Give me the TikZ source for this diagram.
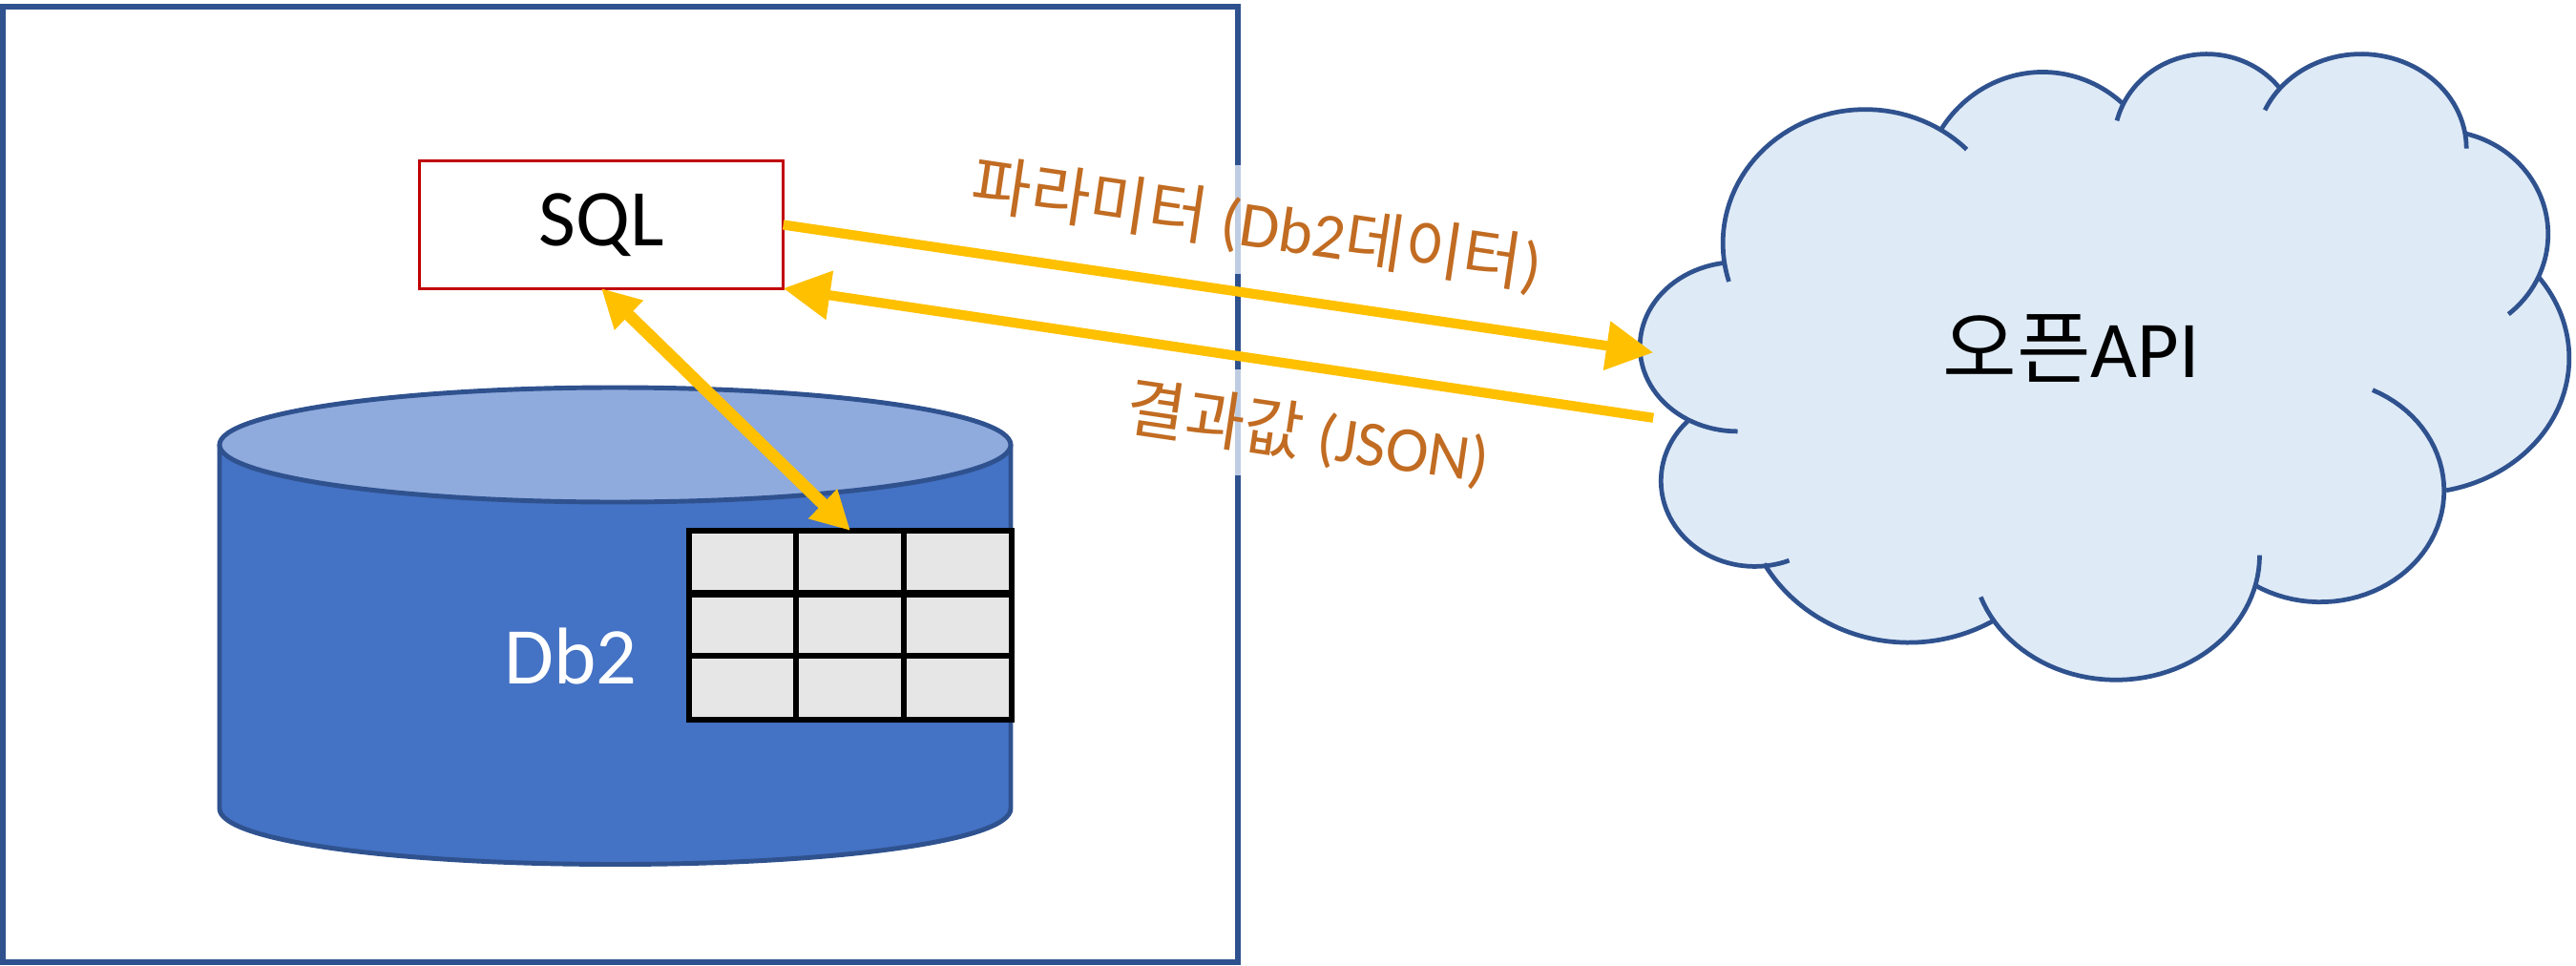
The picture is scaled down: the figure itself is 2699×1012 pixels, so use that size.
\documentclass[tikz,border=0pt]{standalone}
\usepackage{fontspec}
\setmainfont{Carlito}
\newfontfamily\cjk{Noto Sans CJK KR}
\usetikzlibrary{arrows.meta}
\definecolor{framec}{HTML}{2F528F}
\definecolor{framelight}{HTML}{BFCDE3}
\definecolor{bodyc}{HTML}{4472C4}
\definecolor{topc}{HTML}{8FAADC}
\definecolor{cellc}{HTML}{E6E6E6}
\definecolor{cloudc}{HTML}{DEEAF6}
\definecolor{gold}{HTML}{FFC000}
\definecolor{labelc}{HTML}{C16C22}
\definecolor{boxred}{HTML}{C00000}
\newcommand{\cloudlobes}{%
\lobeop{455}{540}{223}{297}{163.3}{315.5}%
\lobeop{733}{441}{190}{281}{213.7}{311.1}%
\lobeop{990}{316}{145}{196}{194.2}{322}%
\lobeop{1232}{330}{165}{210}{204}{360}%
\lobeop{1355}{520}{170}{230}{-76}{50.6}%
\lobeop{1318}{795}{240}{300}{-37.3}{78.6}%
\lobeop{1168}{1090}{194}{247}{-65}{122}%
\lobeop{848}{1233}{225}{277}{0}{160.4}%
\lobeop{523}{1082}{260}{345}{58.8}{150.5}%
\lobeop{282}{1068}{147}{190}{68.5}{224.4}%
\lobeop{255}{770}{153}{188}{90}{261.4}%
}
\tikzset{
  outerframe/.style={draw=framec,line width=1.45pt},
  cylshape/.style={draw=framec,line width=1.4pt,line join=round},
  sqlbox/.style={draw=boxred,line width=.85pt,fill=white,minimum width=3.81cm,minimum height=1.33cm,inner sep=0pt,outer sep=0pt},
  tablebox/.style={draw=black,line width=1.5pt,fill=cellc,minimum width=3.38cm,minimum height=1.98cm,inner sep=0pt,outer sep=0pt},
  link/.style={draw=gold,line width=2.9pt},
  thicklink/.style={draw=gold,line width=3.6pt},
  bigtip/.style={-{Triangle[length=14pt,width=14pt]}},
  midtip/.style={{Triangle[length=11.5pt,width=11.5pt]}-{Triangle[length=11.5pt,width=11.5pt]}},
  bigtext/.style={font=\fontsize{24}{28}\selectfont,inner sep=0pt},
  labeltext/.style={font=\fontsize{19.2}{22}\selectfont,text=labelc,inner sep=0pt,rotate=-8.4},
}
\begin{document}
\begin{tikzpicture}[x=0.01cm,y=-0.01cm]
\useasboundingbox (0,0) rectangle (2699,1012);
\fill[white] (0,0) rectangle (2699,1012);
% outer frame
\draw[outerframe] (3,7) rectangle (1297,1008);
\draw[framelight,line width=1.45pt] (1297,173) -- (1297,287) (1297,387) -- (1297,498);
% cylinder
\draw[cylshape,fill=bodyc] (230,466) -- (230,847)
  .. controls (230,881) and (415,905.5) .. (644.5,905.5)
  .. controls (874,905.5) and (1059,881) .. (1059,847) -- (1059,466) -- cycle;
\draw[cylshape,fill=topc] (644.5,466) ellipse[x radius=414.5,y radius=60];
\node[bigtext,text=white] (db2) at (598,687) {Db2};
% table
\node[tablebox] (tbl) at (891,655) {};
\draw[line width=1.5pt] (834,556) -- (834,754) (947,556) -- (947,754) (722,687) -- (1060,687);
\draw[line width=2.2pt] (722,622) -- (1060,622);
% SQL
\node[sqlbox,bigtext] (sql) at (630,235.5) {SQL};
% cloud
\begin{scope}[shift={(1650,0)},x=0.00669cm,y=-0.00472cm]
\newcommand{\lobeop}[6]{\fill[cloudc] plot[domain=#5:#6,samples=50] ({#1+#3*cos(\x)},{#2+#4*sin(\x)}) -- (800,800) -- cycle;\draw[cloudc,line width=.4pt] (800,800) -- ({#1+#3*cos(#5)},{#2+#4*sin(#5)}) (800,800) -- ({#1+#3*cos(#6)},{#2+#4*sin(#6)});}
\cloudlobes
\renewcommand{\lobeop}[6]{\draw[framec,line width=1.35pt] plot[domain=#5:#6,samples=50] ({#1+#3*cos(\x)},{#2+#4*sin(\x)});}
\cloudlobes
\coordinate (cloudin) at (123,783);
\coordinate (cloudout) at (123,928);
\end{scope}
\node[bigtext] (api) at (2170,365) {{\cjk 오픈}API};
% connectors
\draw[link,bigtip] (sql.east) -- (cloudin);
\draw[link,bigtip] (cloudout) -- (sql.south east);
\draw[thicklink,midtip] (sql.south) -- (tbl.north);
% labels
\node[labeltext] (lparam) at (1317,236) {{\cjk 파라미터} (Db2{\cjk 데이터})};
\node[labeltext] (lresult) at (1371,455) {{\cjk 결과값} (JSON)};
\end{tikzpicture}
\end{document}
